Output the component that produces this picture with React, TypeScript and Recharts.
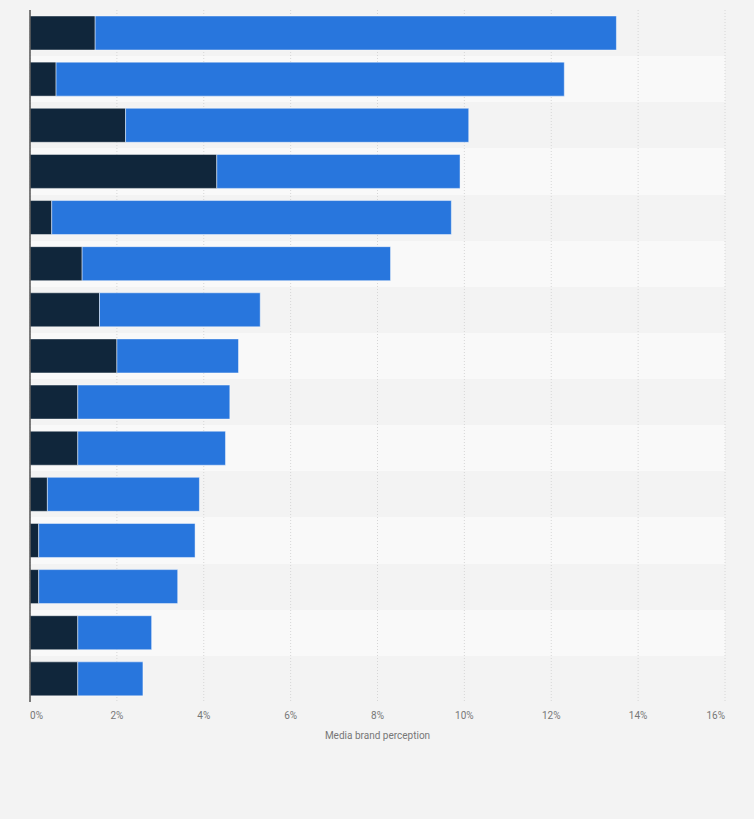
import React from "react";
import { BarChart, Bar, XAxis, YAxis, CartesianGrid, ReferenceLine } from "recharts";

// category labels are not shown in the picture
const brands = [
  "Brand 1", "Brand 2", "Brand 3", "Brand 4", "Brand 5",
  "Brand 6", "Brand 7", "Brand 8", "Brand 9", "Brand 10",
  "Brand 11", "Brand 12", "Brand 13", "Brand 14", "Brand 15",
];
const darkShare = [1.5, 0.6, 2.2, 4.3, 0.5, 1.2, 1.6, 2.0, 1.1, 1.1, 0.4, 0.2, 0.2, 1.1, 1.1];
const blueShare = [12.0, 11.7, 7.9, 5.6, 9.2, 7.1, 3.7, 2.8, 3.5, 3.4, 3.5, 3.6, 3.2, 1.7, 1.5];
const xTicks = [0, 2, 4, 6, 8, 10, 12, 14, 16];

const data = brands.map((name, i) => ({
  name,
  dark: darkShare[i],
  blue: blueShare[i],
}));

const XTick = (props: any) => {
  const { x, y, payload } = props;
  const v = payload.value;
  const anchor = v === xTicks[0] ? "start" : v === xTicks[xTicks.length - 1] ? "end" : "middle";
  return (
    <text x={x} y={y} dy="0.71em" textAnchor={anchor} fontSize={10} fill="#777" fontFamily="Roboto, Arial, sans-serif">
      {v}%
    </text>
  );
};

// row stripes sit on the category band edges
const bandEdges = ({ offset }: any) => {
  const h = offset.height / brands.length;
  return brands.map((_, i) => offset.top + i * h);
};

export default function App() {
  return (
    <div style={{ position: "absolute", left: 0, top: 0, width: 754, height: 819, background: "#f3f3f3" }}>
      <BarChart
        width={754}
        height={819}
        data={data}
        layout="vertical"
        margin={{ top: 10, right: 29, bottom: 77, left: 30 }}
      >
        <CartesianGrid
          vertical={false}
          stroke="none"
          horizontalFill={["#f3f3f3", "#f9f9f9"]}
          horizontalCoordinatesGenerator={bandEdges}
        />
        <CartesianGrid horizontal={false} stroke="#d6d6d6" strokeDasharray="1 2" />
        <XAxis
          type="number"
          domain={[0, 16]}
          ticks={xTicks}
          axisLine={false}
          tickLine={false}
          tickMargin={4}
          tick={<XTick />}
          height={40}
          label={{
            value: "Media brand perception",
            position: "insideBottom",
            offset: 3,
            fontSize: 10,
            fill: "#777",
            fontFamily: "Roboto, Arial, sans-serif",
          }}
        />
        <YAxis
          type="category"
          dataKey="name"
          width={0}
          tick={false}
          tickLine={false}
          axisLine={{ stroke: "#555", strokeWidth: 1 }}
        />
        <Bar dataKey="dark" stackId="s" fill="#10263b" stroke="#ffffff" strokeOpacity={0.45} barSize={34} isAnimationActive={false} />
        <Bar dataKey="blue" stackId="s" fill="#2876dd" stroke="#ffffff" strokeOpacity={0.45} barSize={34} isAnimationActive={false} />
        <ReferenceLine x={0} stroke="#555" strokeWidth={1.5} />
      </BarChart>
    </div>
  );
}
